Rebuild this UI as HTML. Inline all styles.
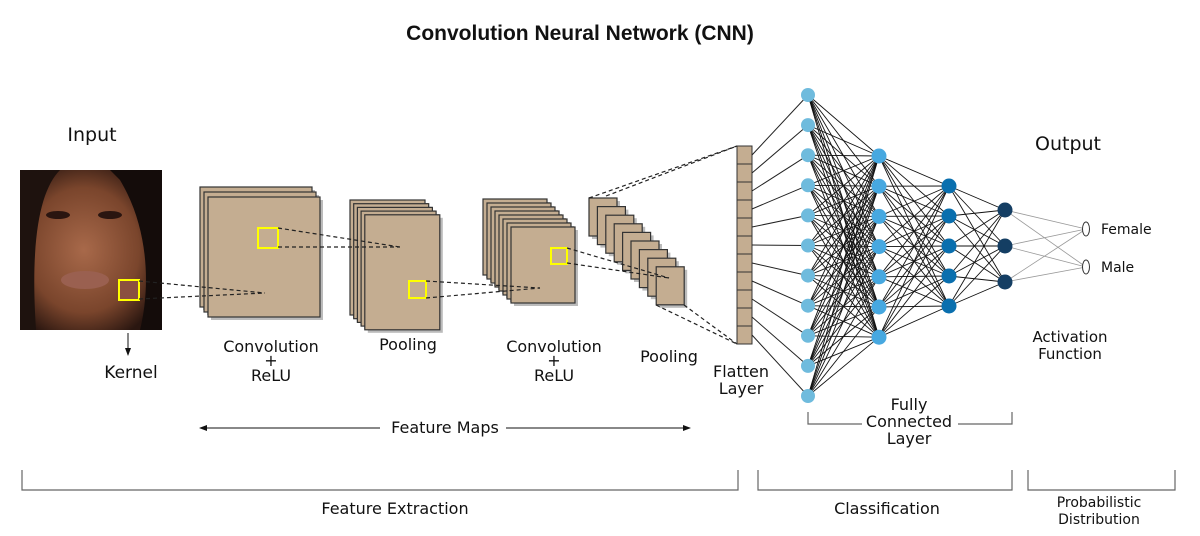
<!DOCTYPE html>
<html><head><meta charset="utf-8"><style>
html,body{margin:0;padding:0;background:#fff}
svg{display:block}
text{font-family:"DejaVu Sans","Liberation Sans",sans-serif;fill:#111}
</style></head><body>
<svg id="s" width="1200" height="536" viewBox="0 0 1200 536" xmlns="http://www.w3.org/2000/svg">
<defs>
<radialGradient id="skin" cx="45%" cy="50%" r="60%">
<stop offset="0" stop-color="#a8694a"/><stop offset="0.65" stop-color="#7a452c"/><stop offset="1" stop-color="#2a1610"/>
</radialGradient>
<marker id="ar" markerWidth="8" markerHeight="8" refX="7" refY="4" orient="auto"><path d="M0,1 L8,4 L0,7 z" fill="#111"/></marker>
</defs>
<text x="580" y="40" text-anchor="middle" font-size="21" font-weight="bold" style="font-family:'Liberation Sans',sans-serif">Convolution  Neural  Network (CNN)</text>
<text x="92" y="141" text-anchor="middle" font-size="19">Input</text>
<text x="1068" y="150" text-anchor="middle" font-size="19">Output</text>
<!-- face -->
<rect x="20" y="170" width="142" height="160" fill="url(#skin)"/>
<path d="M110,170 L162,170 L162,330 L140,330 C150,290 150,230 120,180 Z" fill="#140c0a"/>
<path d="M20,170 L60,170 C40,190 30,240 36,330 L20,330 Z" fill="#1e120e"/>
<ellipse cx="58" cy="215" rx="12" ry="4" fill="#2a1510"/><ellipse cx="110" cy="215" rx="12" ry="4" fill="#2a1510"/>
<ellipse cx="85" cy="280" rx="24" ry="9" fill="#9a6050"/>
<rect x="119" y="280" width="20" height="20" fill="#8a5040" stroke="#ffff00" stroke-width="2"/>
<line x1="128" y1="333" x2="128" y2="355" stroke="#111" marker-end="url(#ar)"/>
<text x="131" y="378" text-anchor="middle" font-size="17">Kernel</text>
<g id="stacks"></g>
<g id="net"></g>
<!-- labels -->
<g font-size="16" text-anchor="middle">
<text x="271" y="352">Convolution</text><text x="271" y="366">+</text><text x="271" y="381">ReLU</text>
<text x="408" y="350">Pooling</text>
<text x="554" y="352">Convolution</text><text x="554" y="366">+</text><text x="554" y="381">ReLU</text>
<text x="669" y="362">Pooling</text>
<text x="741" y="377">Flatten</text><text x="741" y="394">Layer</text>
<text x="909" y="410">Fully</text><text x="909" y="427">Connected</text><text x="909" y="444">Layer</text>
<text x="1070" y="342" font-size="15">Activation</text><text x="1070" y="359" font-size="15">Function</text>
<text x="445" y="433">Feature  Maps</text>
<text x="395" y="514">Feature Extraction</text>
<text x="887" y="514">Classification</text>
<text x="1099" y="507" font-size="14">Probabilistic</text><text x="1099" y="524" font-size="14">Distribution</text>
</g>
<text x="1101" y="234" font-size="14">Female</text><text x="1101" y="272" font-size="14">Male</text>
<g stroke="#111" stroke-width="1" fill="none">
<line x1="380" y1="428" x2="200" y2="428" marker-end="url(#ar)"/>
<line x1="506" y1="428" x2="690" y2="428" marker-end="url(#ar)"/>
</g>
<g stroke="#666" stroke-width="1.2" fill="none">
<path d="M808,412 V424 H862 M958,424 H1012 V412"/>
<path d="M22,470 V490 H738 V470"/>
<path d="M758,470 V490 H1012 V470"/>
<path d="M1028,470 V490 H1175 V470"/>
</g>
</svg>
<script>
var NS="http://www.w3.org/2000/svg";
function el(p,t,a){var e=document.createElementNS(NS,t);for(var k in a)e.setAttribute(k,a[k]);p.appendChild(e);return e;}
var st=document.getElementById('stacks'),net=document.getElementById('net');
function stack(x,y,w,h,n,dx,dy){for(var i=0;i<n;i++){el(st,'rect',{x:x+i*dx+3,y:y+i*dy+3,width:w,height:h,fill:'#777',opacity:0.5});el(st,'rect',{x:x+i*dx,y:y+i*dy,width:w,height:h,fill:'#c4ad91',stroke:'#333','stroke-width':1.2});}}
stack(200,187,112,120,3,4,5);
stack(350,200,75,115,5,3.7,3.7);
stack(483,199,64,76,8,4,4);
stack(589,198,28,38,9,8.4,8.6);
function sq(x,y,s){el(st,'rect',{x:x,y:y,width:s,height:s,fill:'none',stroke:'#ffff00','stroke-width':2});}
sq(258,228,20);sq(409,281,17);sq(551,248,16);
function dl(a,b,c,d){el(st,'line',{x1:a,y1:b,x2:c,y2:d,stroke:'#222','stroke-width':1.2,'stroke-dasharray':'4,3'});}
dl(139,281,265,293);dl(139,299,265,293);
dl(278,228,400,247);dl(278,247,400,247);
dl(426,281,540,288);dl(426,298,540,288);
dl(567,248,669,278);dl(567,263,669,278);
dl(589,198,737,146);dl(606,196,737,146);
dl(656,305,737,344);dl(684,305,737,344);
for(var i=0;i<11;i++)el(st,'rect',{x:737,y:146+i*18,width:15,height:18,fill:'#c4ad91',stroke:'#333','stroke-width':1});
function col(x,y0,n,sp){var a=[];for(var i=0;i<n;i++)a.push([x,y0+i*sp]);return a;}
var L1=col(808,95,11,30.1),L2=col(879,156,7,30.2),L3=col(949,186,5,30),L4=col(1005,210,3,36);
function conn(A,B,c,w){A.forEach(function(p){B.forEach(function(q){el(net,'line',{x1:p[0],y1:p[1],x2:q[0],y2:q[1],stroke:c,'stroke-width':w});});});}
for(var i=0;i<11;i++)el(net,'line',{x1:752,y1:155+i*18,x2:808,y2:95+i*30.1,stroke:'#222','stroke-width':1});
conn(L1,L2,'#111',0.9);conn(L2,L3,'#111',0.9);conn(L3,L4,'#111',0.9);
var O=[[1086,229],[1086,267]];
conn(L4,O,'#999',0.8);
function nodes(L,c,r){L.forEach(function(p){el(net,'circle',{cx:p[0],cy:p[1],r:r,fill:c});});}
nodes(L1,'#6fbbdd',7);nodes(L2,'#47a8e0',7.5);nodes(L3,'#0a6fae',7.5);nodes(L4,'#143e63',7.5);
O.forEach(function(p){el(net,'ellipse',{cx:p[0],cy:p[1],rx:3.5,ry:7,fill:'#fff',stroke:'#333','stroke-width':1});});
</script>
</body></html>
